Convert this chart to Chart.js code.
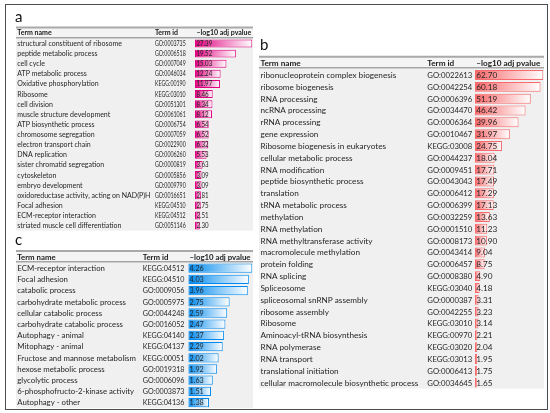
<!DOCTYPE html>
<html>
<head>
<meta charset="utf-8">
<script src="https://cdn.jsdelivr.net/npm/chart.js@4.4.1/dist/chart.umd.min.js"></script>
<style>
  html, body { margin: 0; padding: 0; background: #ffffff; }
  #wrap { position: relative; width: 550px; height: 413px; overflow: hidden; background: #fff; }
  #wrap canvas { position: absolute; left: 0; top: 0; }
  #frame { position: absolute; left: 5px; top: 4px; width: 541px; height: 404px; border: 1.5px solid #4d4d4d; pointer-events: none; }
</style>
</head>
<body>
<div id="wrap">
  <canvas id="ca" width="550" height="413"></canvas>
  <canvas id="cb" width="550" height="413"></canvas>
  <canvas id="cc" width="550" height="413"></canvas>
  <div id="frame"></div>
</div>
<script>
// ---------- DATA ----------
const headerLabels = ['Term name', 'Term id', '\u2013log10 adj pvalue'];
const panelLetters = ['a', 'b', 'c'];

const namesA = ['structural constituent of ribosome', 'peptide metabolic process', 'cell cycle',
  'ATP metabolic process', 'Oxidative phosphorylation', 'Ribosome', 'cell division',
  'muscle structure development', 'ATP biosynthetic process', 'chromosome segregation',
  'electron transport chain', 'DNA replication', 'sister chromatid segregation', 'cytoskeleton',
  'embryo development', 'oxidoreductase activity, acting on NAD(P)H', 'Focal adhesion',
  'ECM-receptor interaction', 'striated muscle cell differentiation'];
const idsA = ['GO:0003735', 'GO:0006518', 'GO:0007049', 'GO:0046034', 'KEGG:00190', 'KEGG:03010',
  'GO:0051301', 'GO:0061061', 'GO:0006754', 'GO:0007059', 'GO:0022900', 'GO:0006260', 'GO:0000819',
  'GO:0005856', 'GO:0009790', 'GO:0016651', 'KEGG:04510', 'KEGG:04512', 'GO:0051146'];
const valuesA = [27.39, 19.52, 15.03, 12.24, 11.97, 8.46, 8.34, 8.12, 6.54, 6.52, 6.32, 5.53, 3.63,
  3.09, 3.09, 2.81, 2.75, 2.51, 2.30];

const namesB = ['ribonucleoprotein complex biogenesis', 'ribosome biogenesis', 'RNA processing',
  'ncRNA processing', 'rRNA processing', 'gene expression', 'Ribosome biogenesis in eukaryotes',
  'cellular metabolic process', 'RNA modification', 'peptide biosynthetic process', 'translation',
  'tRNA metabolic process', 'methylation', 'RNA methylation', 'RNA methyltransferase activity',
  'macromolecule methylation', 'protein folding', 'RNA splicing', 'Spliceosome',
  'spliceosomal snRNP assembly', 'ribosome assembly', 'Ribosome', 'Aminoacyl-tRNA biosynthesis',
  'RNA polymerase', 'RNA transport', 'translational initiation',
  'cellular macromolecule biosynthetic process'];
const idsB = ['GO:0022613', 'GO:0042254', 'GO:0006396', 'GO:0034470', 'GO:0006364', 'GO:0010467',
  'KEGG:03008', 'GO:0044237', 'GO:0009451', 'GO:0043043', 'GO:0006412', 'GO:0006399', 'GO:0032259',
  'GO:0001510', 'GO:0008173', 'GO:0043414', 'GO:0006457', 'GO:0008380', 'KEGG:03040', 'GO:0000387',
  'GO:0042255', 'KEGG:03010', 'KEGG:00970', 'KEGG:03020', 'KEGG:03013', 'GO:0006413', 'GO:0034645'];
const valuesB = [62.70, 60.18, 51.19, 46.42, 39.96, 31.97, 24.75, 18.04, 17.71, 17.49, 17.29, 17.13,
  13.63, 11.23, 10.90, 9.04, 8.75, 4.90, 4.18, 3.31, 3.23, 3.14, 2.21, 2.04, 1.95, 1.75, 1.65];

const namesC = ['ECM-receptor interaction', 'Focal adhesion', 'catabolic process',
  'carbohydrate metabolic process', 'cellular catabolic process', 'carbohydrate catabolic process',
  'Autophagy - animal', 'Mitophagy - animal', 'Fructose and mannose metabolism',
  'hexose metabolic process', 'glycolytic process', '6-phosphofructo-2-kinase activity',
  'Autophagy - other'];
const idsC = ['KEGG:04512', 'KEGG:04510', 'GO:0009056', 'GO:0005975', 'GO:0044248', 'GO:0016052',
  'KEGG:04140', 'KEGG:04137', 'KEGG:00051', 'GO:0019318', 'GO:0006096', 'GO:0003873', 'KEGG:04136'];
const valuesC = [4.26, 4.03, 3.96, 2.75, 2.59, 2.47, 2.37, 2.29, 2.02, 1.92, 1.63, 1.51, 1.38];

// ---------- LAYOUT / STYLE ----------
const FONT = 'Lato, "Open Sans", sans-serif';
const panels = [
  { canvas: 'ca', letter: panelLetters[0], names: namesA, ids: idsA, values: valuesA, color: '#e1007f',
    letterX: 15, letterY: 22, rowLeft: 16, rowRight: 253, headTop: 27.5, headBottom: 37.8, headY: 33,
    rowTop: 38.4, pitch: 10.12, nameX: 17.3, idX: 155, barX: 195, barMaxX: 252.3, valX: 196.5,
    fontSize: 7.0,
    nameFit: ['structural constituent of ribosome', 105], idFit: 30.7, valFit: 15.7, headFit: 55.3,
    barPct: 0.78 },
  { canvas: 'cb', letter: panelLetters[1], names: namesB, ids: idsB, values: valuesB, color: '#f8696b',
    letterX: 260, letterY: 50, rowLeft: 259, rowRight: 544, headTop: 56.7, headBottom: 67.8, headY: 63,
    rowTop: 69.1, pitch: 11.83, nameX: 260.5, idX: 427.3, barX: 475, barMaxX: 543.3, valX: 476.2,
    fontSize: null,
    nameFit: ['ribonucleoprotein complex biogenesis', 136], idFit: 45, valFit: 24, headFit: 65,
    barPct: 0.84 },
  { canvas: 'cc', letter: panelLetters[2], names: namesC, ids: idsC, values: valuesC, color: '#008aef',
    letterX: 15, letterY: 245, rowLeft: 16, rowRight: 253, headTop: 251, headBottom: 261.8, headY: 257,
    rowTop: 262.6, pitch: 11.2, nameX: 17.3, idX: 142.7, barX: 188.3, barMaxX: 252.3, valX: 189.5,
    fontSize: null,
    nameFit: ['Fructose and mannose metabolism', 118.7], idFit: 41.7, valFit: 14.3, headFit: 62,
    barPct: 0.83 }
];

function measureAt(ctx, text, size, weight) {
  ctx.save();
  ctx.font = (weight || '') + ' ' + size + 'px ' + FONT;
  const m = ctx.measureText(text).width;
  ctx.restore();
  return m;
}
function fitSize(ctx, text, w, weight) {
  return (10 * w / measureAt(ctx, text, 10, weight)).toFixed(2);
}
function panelSize(ctx, p) {
  return p.fontSize ? p.fontSize : fitSize(ctx, p.nameFit[0], p.nameFit[1], '');
}
// draw text with the given font size, condensing horizontally by scale
function drawScaled(ctx, text, x, y, size, weight, scale) {
  ctx.font = (weight || '') + ' ' + size + 'px ' + FONT;
  const w = ctx.measureText(text).width;
  ctx.fillText(text, x, y, w * scale);
}

const tablePlugin = {
  id: 'tablePlugin',
  beforeDatasetsDraw(chart) {
    const p = chart.options.plugins.tablePlugin.panel;
    const ctx = chart.ctx;
    const area = chart.chartArea;
    const ns = panelSize(ctx, p);
    const hScale = Math.min(1, p.headFit / measureAt(ctx, headerLabels[2], ns, 'bold'));
    ctx.save();
    // panel letter
    ctx.fillStyle = '#111';
    ctx.font = '15px ' + FONT;
    ctx.textBaseline = 'alphabetic';
    ctx.textAlign = 'left';
    ctx.fillText(p.letter, p.letterX, p.letterY);
    // header background + lines
    ctx.fillStyle = '#f4f4f4';
    ctx.fillRect(p.rowLeft, p.headTop, p.rowRight - p.rowLeft, p.headBottom - p.headTop);
    ctx.fillStyle = '#f0f0f0';
    ctx.fillRect(p.rowLeft, p.headBottom, p.rowRight - p.rowLeft, area.bottom - p.headBottom);
    ctx.strokeStyle = '#a9a9a9';
    ctx.lineWidth = 2;
    ctx.beginPath(); ctx.moveTo(p.rowLeft, p.headTop); ctx.lineTo(p.rowRight, p.headTop); ctx.stroke();
    ctx.strokeStyle = '#808080';
    ctx.lineWidth = 1;
    ctx.beginPath(); ctx.moveTo(p.rowLeft, p.headBottom); ctx.lineTo(p.rowRight, p.headBottom); ctx.stroke();
    // header text
    ctx.fillStyle = '#1a1a1a';
    ctx.textBaseline = 'middle';
    drawScaled(ctx, headerLabels[0], p.nameX, p.headY, ns, 'bold', hScale);
    drawScaled(ctx, headerLabels[1], p.idX, p.headY, ns, 'bold', hScale);
    drawScaled(ctx, headerLabels[2], p.valX, p.headY, ns, 'bold', hScale);
    ctx.restore();
  },
  afterDatasetsDraw(chart) {
    const p = chart.options.plugins.tablePlugin.panel;
    const ctx = chart.ctx;
    const ys = chart.scales.y;
    const ns = panelSize(ctx, p);
    const nScale = Math.min(1, p.nameFit[1] / measureAt(ctx, p.nameFit[0], ns, ''));
    const iScale = Math.min(1, p.idFit / measureAt(ctx, p.ids[0], ns, ''));
    const vScale = Math.min(1, p.valFit / measureAt(ctx, p.values[0].toFixed(2), ns, ''));
    ctx.save();
    ctx.fillStyle = '#262626';
    ctx.textBaseline = 'middle';
    ctx.textAlign = 'left';
    p.names.forEach((n, i) => {
      const y = ys.getPixelForValue(i) + 0.3;
      drawScaled(ctx, n, p.nameX, y, ns, '', nScale);
      drawScaled(ctx, p.ids[i], p.idX, y, ns, '', iScale);
      drawScaled(ctx, p.values[i].toFixed(2), p.valX, y, ns, '', vScale);
    });
    ctx.restore();
  }
};

function makeChart(p) {
  const n = p.names.length;
  const bottom = p.rowTop + n * p.pitch;
  const vmax = Math.max(...p.values);
  return new Chart(document.getElementById(p.canvas), {
    type: 'bar',
    data: {
      labels: p.names,
      datasets: [{
        data: p.values,
        borderColor: p.color,
        borderWidth: 1,
        borderSkipped: false,
        barPercentage: p.barPct,
        categoryPercentage: 1,
        backgroundColor: (c) => {
          const ch = c.chart;
          if (!ch.chartArea || !ch.scales.x || c.raw == null) return p.color;
          const x0 = ch.scales.x.getPixelForValue(0);
          const x1 = ch.scales.x.getPixelForValue(c.raw);
          const g = ch.ctx.createLinearGradient(x0, 0, Math.max(x1, x0 + 1), 0);
          g.addColorStop(0, p.color);
          g.addColorStop(1, '#ffffff');
          return g;
        }
      }]
    },
    options: {
      indexAxis: 'y',
      responsive: false,
      animation: false,
      events: [],
      layout: { padding: { left: p.barX, right: 550 - p.barMaxX, top: p.rowTop, bottom: 413 - bottom } },
      scales: {
        x: { type: 'linear', min: 0, max: vmax, display: false },
        y: { type: 'category', display: false, offset: true, grid: { display: false } }
      },
      plugins: {
        legend: { display: false },
        tooltip: { enabled: false },
        title: { display: false },
        tablePlugin: { panel: p }
      }
    },
    plugins: [tablePlugin]
  });
}

function start() { panels.forEach(makeChart); }
if (document.fonts && document.fonts.load) {
  Promise.all([document.fonts.load('10px Lato'), document.fonts.load('bold 10px Lato')]).then(start, start);
} else { start(); }
</script>
</body>
</html>
